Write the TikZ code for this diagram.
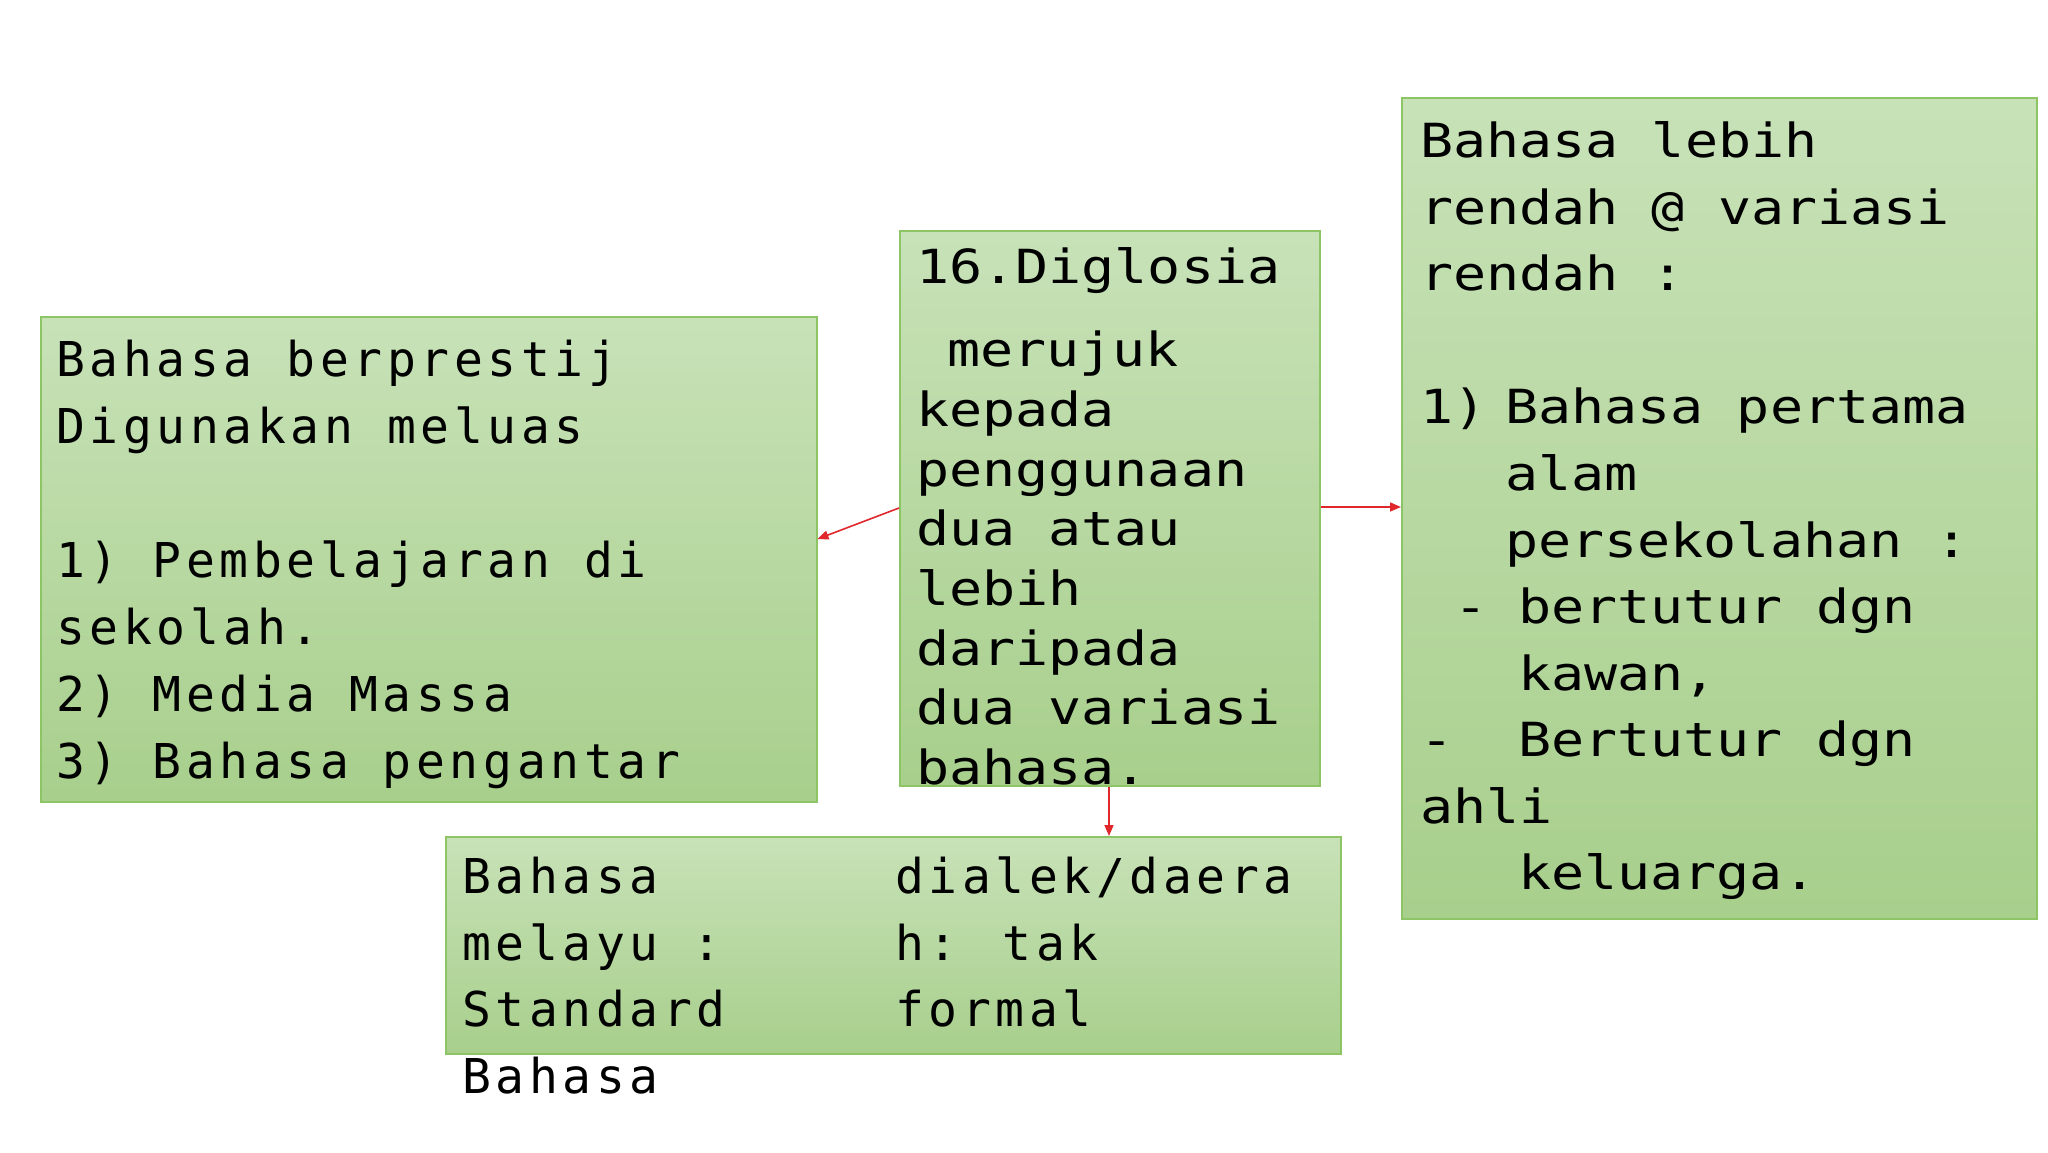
\documentclass[tikz,border=0pt]{standalone}
\usepackage{fontspec}
\usetikzlibrary{arrows.meta}
\newfontfamily\narrowmono[LetterSpace=9.6]{DejaVu Sans Mono}
\newfontfamily\widemono[FakeStretch=1.17]{DejaVu Sans Mono}
\newcommand\nfont{\narrowmono\fontsize{48}{50}\selectfont\spaceskip=34pt plus 0pt minus 0pt\relax}
\newcommand\wfont{\widemono\fontsize{47}{50}\selectfont}
\definecolor{boxline}{HTML}{8CC466}
\definecolor{boxtop}{HTML}{C8E2B8}
\definecolor{boxbot}{HTML}{A8CF8C}
\definecolor{arrowred}{HTML}{E0282C}
\tikzset{
  gbox/.style={draw=boxline, line width=1.5pt, top color=boxtop, bottom color=boxbot, anchor=north west, inner sep=0pt},
  ntext/.style={anchor=base west, inner sep=0pt, font=\nfont},
  wtext/.style={anchor=base west, inner sep=0pt, font=\wfont},
  link/.style={draw=arrowred, line width=1.6pt, -{Triangle[length=11pt,width=9pt]}}
}
\begin{document}
\begin{tikzpicture}[x=1pt,y=-1pt]
\useasboundingbox (0,0) rectangle (2048,1152);
\fill[white] (0,0) rectangle (2048,1152);
% boxes
\node[gbox, minimum width=776pt, minimum height=485pt] (left) at (40,316) {};
\node[gbox, minimum width=420pt, minimum height=555pt] (center) at (899,230) {};
\node[gbox, minimum width=635pt, minimum height=821pt] (right) at (1401,97) {};
\node[gbox, minimum width=895pt, minimum height=217pt] (bottom) at (445,836) {};
% left text
\node[ntext] (l1) at (56,376) {Bahasa berprestij};
\node[ntext] (l2) at (56,443) {Digunakan meluas};
\node[ntext] (l3) at (56,577) {1) Pembelajaran di};
\node[ntext] (l4) at (56,644) {sekolah.};
\node[ntext] (l5) at (56,711) {2) Media Massa};
\node[ntext] (l6) at (56,778) {3) Bahasa pengantar};
% center text
\node[wtext] (c1) at (916,283) {16.Diglosia};
\node[wtext] (c2) at (947,366) {merujuk};
\node[wtext] (c3) at (916,426) {kepada};
\node[wtext] (c4) at (916,486) {penggunaan};
\node[wtext] (c5) at (916,545) {dua atau};
\node[wtext] (c6) at (916,605) {lebih};
\node[wtext] (c7) at (916,665) {daripada};
\node[wtext] (c8) at (916,724) {dua variasi};
\node[wtext] (c9) at (916,784) {bahasa.};
% right text
\node[wtext] (r1) at (1420,157) {Bahasa lebih};
\node[wtext] (r2) at (1420,224) {rendah @ variasi};
\node[wtext] (r3) at (1420,290) {rendah :};
\node[wtext] (r4a) at (1420,423) {1)};
\node[wtext] (r4) at (1505,423) {Bahasa pertama};
\node[wtext] (r5) at (1505,490) {alam};
\node[wtext] (r6) at (1505,557) {persekolahan :};
\node[wtext] (r7a) at (1454,623) {-};
\node[wtext] (r7) at (1518,623) {bertutur dgn};
\node[wtext] (r8) at (1518,690) {kawan,};
\node[wtext] (r9a) at (1420,756) {-};
\node[wtext] (r9) at (1518,756) {Bertutur dgn};
\node[wtext] (r10) at (1420,823) {ahli};
\node[wtext] (r11) at (1518,889) {keluarga.};
% bottom text
\node[ntext] (b1) at (462,893) {Bahasa};
\node[ntext] (b2) at (462,960) {melayu :};
\node[ntext] (b3) at (462,1026) {Standard};
\node[ntext] (b4) at (462,1093) {Bahasa};
\node[ntext] (b5) at (895,893) {dialek/daera};
\node[ntext] (b6) at (895,960) {h: tak};
\node[ntext] (b7) at (895,1026) {formal};
% connectors
\coordinate (ya) at (0,508);
\coordinate (yb) at (0,539);
\coordinate (yc) at (0,507);
\coordinate (xd) at (1109,0);
\coordinate (cl) at (center.west |- ya);
\coordinate (lr) at (left.east |- yb);
\coordinate (cr) at (center.east |- yc);
\coordinate (rl) at (right.west |- yc);
\coordinate (cb) at (xd |- center.south);
\coordinate (bt) at (xd |- bottom.north);
\draw[link] (cl) -- (lr);
\draw[link] (cr) -- (rl);
\draw[link] (cb) -- (bt);
\end{tikzpicture}
\end{document}
